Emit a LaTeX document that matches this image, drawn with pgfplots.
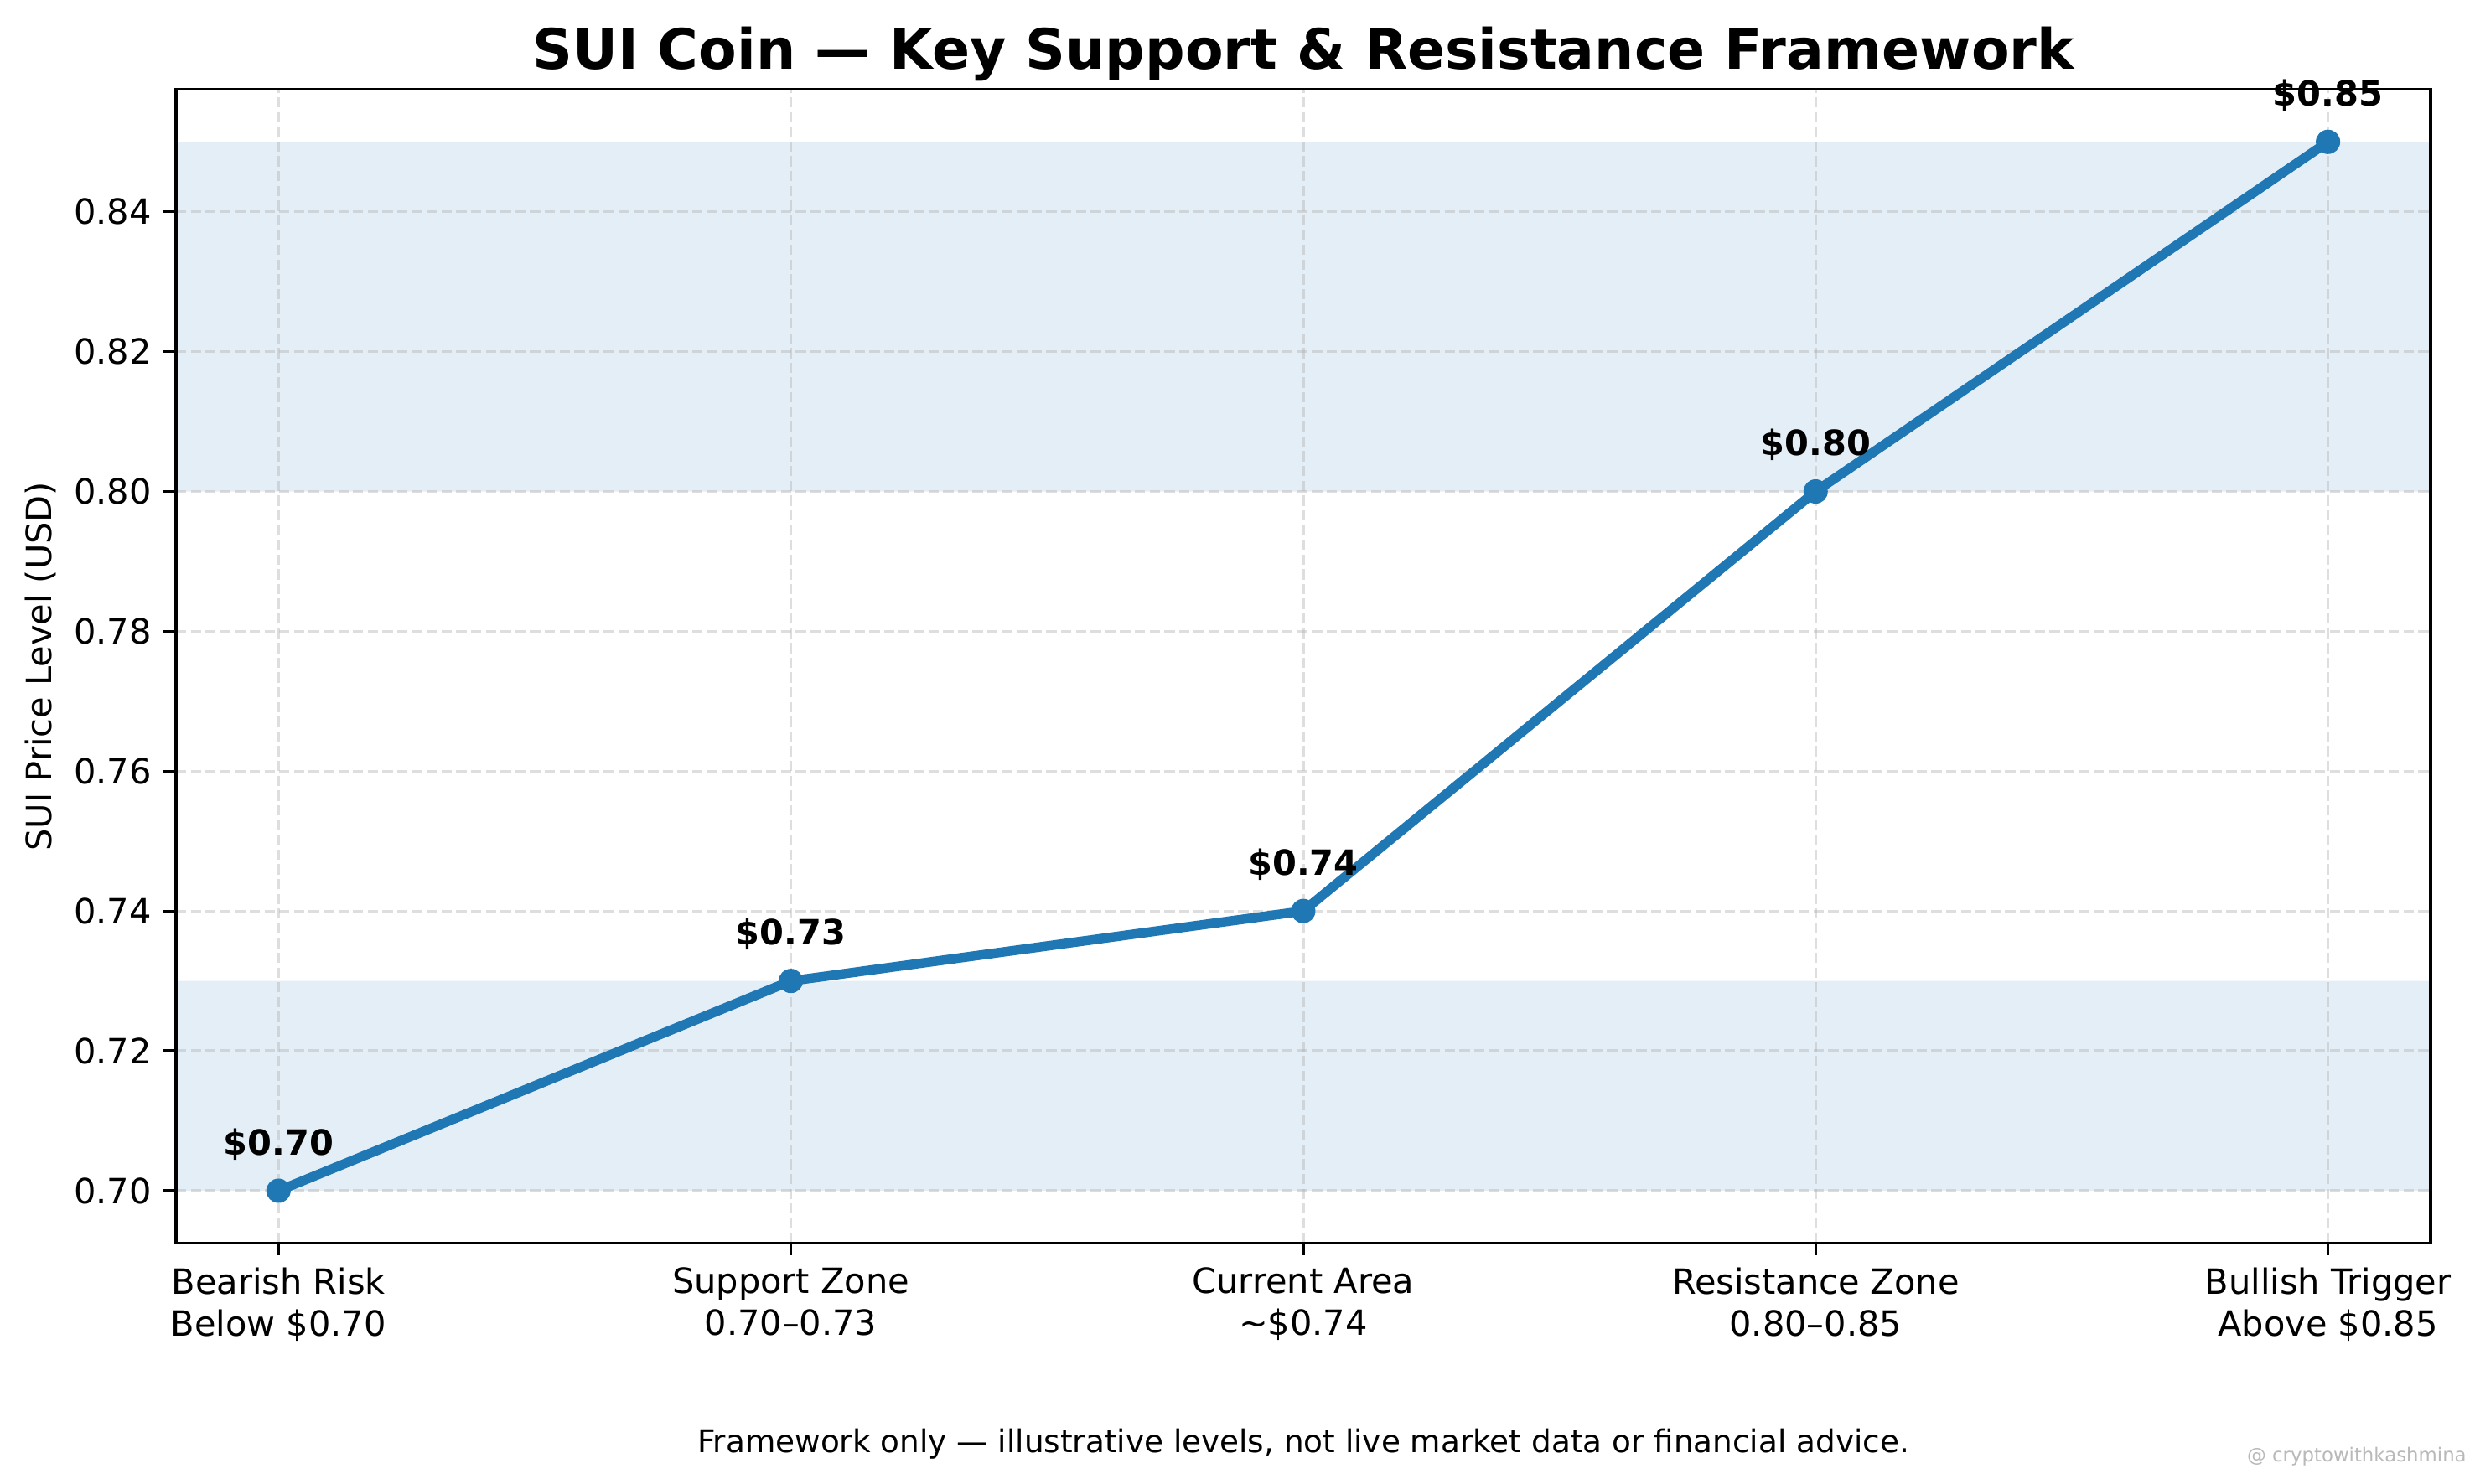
\documentclass[border=0pt]{standalone}
\usepackage{pgfplots}
\pgfplotsset{compat=1.18}
\usepackage{fontspec}
\setmainfont{DejaVu Sans}
\definecolor{tabblue}{HTML}{1F77B4}
\definecolor{gridgray}{HTML}{B0B0B0}
\newcommand{\ften}{\fontsize{10}{12}\selectfont}
\begin{document}
\begin{tikzpicture}
\begin{axis}[
  set layers,
  scale only axis,
  width=648pt, height=331.7pt,
  xmin=-0.2, xmax=4.2, ymin=0.6925, ymax=0.8575,
  xtick={0,1,2,3,4},
  xticklabels={{Bearish Risk\\Below \$0.70},{Support Zone\\0.70–0.73},{Current Area\\\textasciitilde\$0.74},{Resistance Zone\\0.80–0.85},{Bullish Trigger\\Above \$0.85}},
  ytick={0.70,0.72,0.74,0.76,0.78,0.80,0.82,0.84},
  yticklabel style={/pgf/number format/.cd, fixed, fixed zerofill, precision=2, assume math mode=true},
  tick label style={font=\ften, black},
  xticklabel style={align=center},
  tick align=outside, major tick length=3.5pt,
  xtick pos=bottom, ytick pos=left,
  tick style={line width=0.8pt, black},
  axis line style={line width=0.8pt, black},
  xmajorgrids, ymajorgrids,
  grid style={line width=0.8pt, gridgray, opacity=0.42, dash pattern=on 2.96pt off 1.28pt},
  title={SUI Coin — Key Support \& Resistance Framework},
  title style={font=\fontsize{16}{19}\selectfont\bfseries, at={(0.5,1)}, anchor=base, yshift=-0.1pt},
  ylabel={SUI Price Level (USD)},
  ylabel style={font=\ften, at={(rel axis cs:0,0.5)}, anchor=center, yshift=38.9pt},
  clip=false,
]
\addplot[draw=none, fill=tabblue, fill opacity=0.12, on layer=axis background, forget plot]
  coordinates {(-0.2,0.70) (4.2,0.70) (4.2,0.73) (-0.2,0.73) (-0.2,0.70)};
\addplot[draw=none, fill=tabblue, fill opacity=0.12, on layer=axis background, forget plot]
  coordinates {(-0.2,0.80) (4.2,0.80) (4.2,0.85) (-0.2,0.85) (-0.2,0.80)};
\addplot[tabblue, line width=2.75pt, mark=*, mark size=3.2pt,
  mark options={line width=0.6pt, fill=tabblue, draw=tabblue},
  point meta=y,
  nodes near coords={\textbf{\$\pgfmathprintnumber[fixed,fixed zerofill,precision=2,assume math mode=true]{\pgfplotspointmeta}}},
  every node near coord/.append style={anchor=base, yshift=10.3pt, font=\ften\bfseries, text=black, inner sep=0pt},
] coordinates {(0,0.70) (1,0.73) (2,0.74) (3,0.80) (4,0.85)};
\end{axis}
\node[anchor=base, font=\fontsize{9}{11}\selectfont] at (324pt,-60.1pt) {Framework only — illustrative levels, not live market data or financial advice.};
\node[anchor=base east, font=\fontsize{5.5}{6.5}\selectfont, text=gray!55, inner sep=0pt] at (658.5pt,-62.9pt) {@ cryptowithkashmina};
\pgfresetboundingbox
\path[use as bounding box] (-50.59pt,-69.2pt) rectangle (660.8pt,357.4pt);
\end{tikzpicture}
\end{document}
